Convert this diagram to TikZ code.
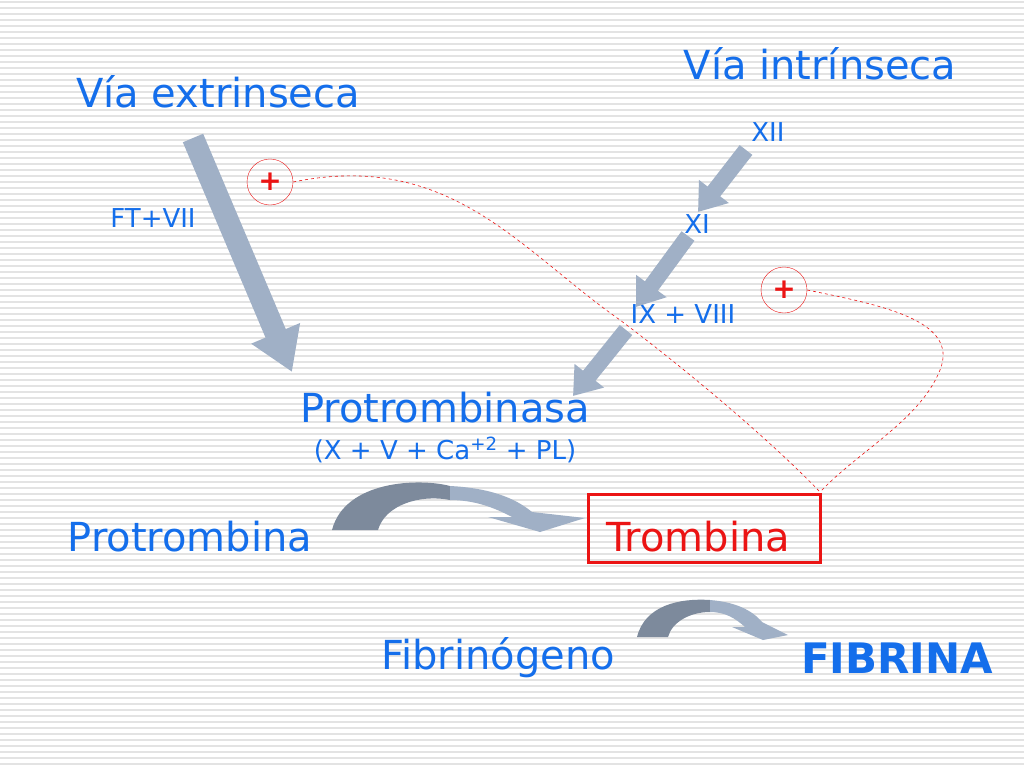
\documentclass[tikz,border=0pt]{standalone}
\usepackage{fontspec}
\setmainfont{DejaVu Sans}
\usetikzlibrary{arrows.meta}
\definecolor{tb}{RGB}{20,110,235}
\definecolor{ar}{RGB}{160,176,198}
\definecolor{ard}{RGB}{125,138,156}
\definecolor{rr}{RGB}{235,20,20}
\tikzset{
 big/.style={text=tb,font=\fontsize{40}{44}\selectfont},
 small/.style={text=tb,font=\fontsize{26}{30}\selectfont},
 fat/.style={draw=ar,line width=22pt,-{Triangle[length=42pt,width=50pt]}},
 fat2/.style={draw=ar,line width=16pt,-{Triangle[length=26pt,width=36pt]}},
 plus/.style={circle,draw=rr,minimum size=46pt,inner sep=0pt,text=rr,font=\bfseries\fontsize{28}{28}\selectfont},
 rdash/.style={draw=rr,dashed,line width=0.6pt}
}
\begin{document}
\begin{tikzpicture}[x=1pt,y=-1pt]
\useasboundingbox (0,0) rectangle (1024,768);
\fill[white] (0,0) rectangle (1024,768);
\foreach \y in {2,8,...,768} \draw[gray!22,line width=1.6pt] (0,\y) -- (1024,\y);
% texts
\node[big] (ve) at (218,92) {Vía extrinseca};
\node[big] (vi) at (820,64) {Vía intrínseca};
\node[small] (ft) at (153,218) {FT+VII};
\node[small] (xii) at (768,132) {XII};
\node[small] (xi) at (697,224) {XI};
\node[small] (ix) at (683,314) {IX + VIII};
\node[big] (pr) at (445,408) {Protrombinasa};
\node[small] (prs) at (445,450) {(X + V + Ca\textsuperscript{+2} + PL)};
\node[big] (pt) at (190,537) {Protrombina};
\node[draw=rr,line width=3pt,minimum width=232pt,minimum height=68pt] (tr) at (704,528) {};
\node[big,text=rr] (trt) at (698,537) {Trombina};
\node[big] (fg) at (498,658) {Fibrinógeno};
\node[text=tb,font=\bfseries\fontsize{42}{46}\selectfont] (fb) at (897,658) {FIBRINA};
\node[plus] (p1) at (270,182) {+};
\node[plus] (p2) at (784,290) {+};
% fat arrows
\coordinate (a1) at (193,138); \coordinate (a1e) at (292,372);
\draw[fat] (a1) -- (a1e);
\coordinate (b1) at (746,150); \coordinate (b1e) at (698,212);
\draw[fat2] (b1) -- (b1e);
\coordinate (c1) at (688,236); \coordinate (c1e) at (636,307);
\draw[fat2] (c1) -- (c1e);
\coordinate (d1) at (626,330); \coordinate (d1e) at (573,396);
\draw[fat2] (d1) -- (d1e);
% curved arrows
\fill[ard] (332,530) .. controls (345,480) and (420,478) .. (450,486) -- (450,500) .. controls (420,494) and (385,505) .. (378,530) -- cycle;
\fill[ar] (450,486) .. controls (490,488) and (515,498) .. (532,512) -- (585,518) -- (540,532) -- (488,517) -- (512,517) .. controls (495,508) and (475,500) .. (450,500) -- cycle;
\fill[ard] (637,637) .. controls (645,605) and (680,598) .. (710,600) -- (710,612) .. controls (690,612) and (672,622) .. (668,637) -- cycle;
\fill[ar] (710,600) .. controls (735,602) and (752,610) .. (762,622) -- (788,635) -- (763,640) -- (732,627) -- (745,627) .. controls (735,618) and (725,612) .. (710,612) -- cycle;
% dashed
\coordinate (m) at (820,492);
\draw[rdash] (p1.east) .. controls (450,150) and (520,250) .. (620,320) .. controls (700,380) and (780,450) .. (m);
\draw[rdash] (p2.east) .. controls (880,305) and (960,320) .. (940,370) .. controls (920,420) and (860,450) .. (m);
\end{tikzpicture}
\end{document}
